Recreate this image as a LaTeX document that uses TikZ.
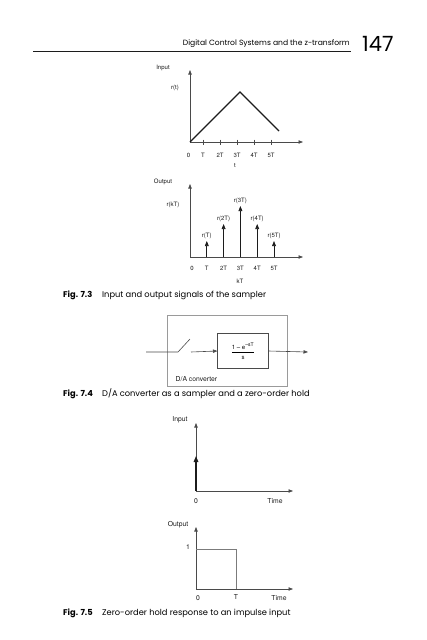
\documentclass[tikz,border=0pt]{standalone}
\usepackage{amsmath}
\usepackage{fontspec}
\setmainfont{TeX Gyre Heros}
\newfontfamily\capfont{Poppins}
\definecolor{inkBlack}{HTML}{1C1C1C}
\definecolor{inkGray}{HTML}{4A4A4A}
\definecolor{boxGray}{HTML}{9A9A9A}
\usetikzlibrary{arrows.meta, positioning, calc}

\begin{document}
\begin{tikzpicture}[x=1pt, y=-1pt,
  axis/.style={inkGray, line width=0.6pt, -{Triangle[length=4.5pt, width=3.4pt]}},
  tickmark/.style={inkGray, line width=0.6pt},
  sig/.style={inkBlack, line width=1.1pt},
  stem/.style={inkBlack, line width=0.7pt, -{Triangle[length=5pt, width=3.8pt]}},
  lbl/.style={font=\fontsize{6}{7}\selectfont, text=inkBlack, inner sep=0.5pt, text height=4.3pt, text depth=1.2pt},
  lblb/.style={font=\fontsize{6.8}{7.5}\selectfont, text=inkBlack, inner sep=0.5pt, text height=4.9pt, text depth=1.4pt},
  capnum/.style={font=\capfont\bfseries\fontsize{8.3}{10}\selectfont, anchor=base west, inner sep=0pt},
  captxt/.style={font=\capfont\fontsize{8.3}{10}\selectfont, anchor=base west, inner sep=0pt}]
  \useasboundingbox[fill=white] (0,0) rectangle (427,640);

  % running head
  \node[captxt, font=\capfont\fontsize{7.6}{9}\selectfont, anchor=base east] (head) at (350,45) {Digital Control Systems and the z-transform};
  \node[capnum, font=\capfont\fontsize{21}{24}\selectfont] (page) at (362,51.5) {147};
  \coordinate (ruleL) at (33,51);
  \coordinate (ruleR) at (351,51);
  \draw[inkBlack, line width=0.8pt] (ruleL) -- (ruleR);

  % Fig. 7.3, input
  \coordinate (o1) at (190,142);
  \coordinate (y1) at (190,70);
  \coordinate (x1) at (303,142);
  \draw[axis] (o1) -- (y1);
  \draw[axis] (o1) -- (x1);
  \foreach \k/\lab in {1/T,2/2T,3/3T,4/4T,5/5T} {
    \coordinate (tk\k) at ({186+17*\k},142);
    \draw[tickmark] ($(tk\k)+(0,-2.5)$) -- ($(tk\k)+(0,2.5)$);
    \node[lbl] (tl\k) at ({186+17*\k},155.5) {\lab};
  }
  \node[lbl] (tl0) at (188.5,155.5) {0};
  \coordinate (peak) at (240,92);
  \coordinate (rEnd) at (279,131);
  \draw[sig] (o1) -- (peak) -- (rEnd);
  \node[lbl] (in1) at (163,68) {Input};
  \node[lbl] (rt) at (175,88) {r(t)};
  \node[lbl] (tax) at (235,166) {t};

  % Fig. 7.3, output
  \coordinate (o2) at (190,257);
  \coordinate (y2) at (190,184);
  \coordinate (x2) at (303,257);
  \draw[axis] (o2) -- (y2);
  \draw[axis] (o2) -- (x2);
  \foreach \k/\h/\lab/\s in {1/241/r(T)/T,2/224/r(2T)/2T,3/206/r(3T)/3T,4/224/r(4T)/4T,5/241/r(5T)/5T} {
    \coordinate (sb\k) at ({190+16.8*\k},257);
    \coordinate (st\k) at ({190+16.8*\k},\h);
    \draw[stem] (sb\k) -- (st\k);
    \node[lbl, above=1.5pt of st\k] (sl\k) {\lab};
    \node[lbl] (kl\k) at ({190+16.8*\k},269) {\s};
  }
  \node[lbl] (kl0) at (192,269) {0};
  \node[lbl] (out1) at (163,182) {Output};
  \node[lbl] (rkt) at (173,205) {r(kT)};
  \node[lbl] (ktax) at (240,282) {kT};

  \node[capnum] (fig3) at (63,297.5) {Fig. 7.3};
  \node[captxt] (cap3) at (102,297.5) {Input and output signals of the sampler};

  % Fig. 7.4
  \node[draw=boxGray, line width=0.5pt, minimum width=120, minimum height=71, inner sep=0pt] (dac) at (227,350.5) {};
  \node[draw=inkGray, line width=0.6pt, minimum width=50.5, minimum height=35, inner sep=0pt] (zoh) at (243,351)
    {\fontsize{6}{7}\selectfont$\dfrac{\text{1 -- e}^{\text{--sT}}}{\text{s}}$};
  \node[lblb, anchor=south west] (daclbl) at (175,384) {D/A converter};
  \coordinate (in) at (146,352);
  \coordinate (swA) at (178,352);
  \coordinate (swB) at (190,339);
  \coordinate (swC) at (191,352);
  \coordinate (out) at (308,352);
  \draw[tickmark] (in) -- (swA) -- (swB);
  \draw[axis] (swC) -- (zoh.west);
  \draw[axis] (zoh.east) -- (out);

  \node[capnum] (fig4) at (63,396.5) {Fig. 7.4};
  \node[captxt] (cap4) at (102,396.5) {D/A converter as a sampler and a zero-order hold};

  % Fig. 7.5, input
  \coordinate (o3) at (196,491);
  \coordinate (y3) at (196,423);
  \coordinate (x3) at (293,491);
  \coordinate (imp) at (196,456);
  \draw[axis] (o3) -- (y3);
  \draw[axis] (o3) -- (x3);
  \draw[inkBlack, line width=1.4pt, -{Triangle[length=6pt, width=4.5pt]}] (o3) -- (imp);
  \node[lblb] (in2) at (180,420) {Input};
  \node[lblb] (z3) at (196,502) {0};
  \node[lblb] (tm3) at (275,502) {Time};

  % Fig. 7.5, output
  \coordinate (o4) at (196,589);
  \coordinate (y4) at (196,527);
  \coordinate (x4) at (293,589);
  \coordinate (pTop) at (196,549);
  \coordinate (pCorner) at (236,549);
  \coordinate (pEnd) at (236,589);
  \draw[axis] (o4) -- (y4);
  \draw[axis] (o4) -- (x4);
  \draw[boxGray!80!black, line width=0.6pt] (pTop) -- (pCorner) -- (pEnd);
  \node[lblb] (out2) at (178,525) {Output};
  \node[lblb] (one) at (188,548) {1};
  \node[lblb] (z4) at (198,599) {0};
  \node[lblb] (tT) at (236,598) {T};
  \node[lblb] (tm4) at (279,599) {Time};

  \node[capnum] (fig5) at (63,615.5) {Fig. 7.5};
  \node[captxt] (cap5) at (102,615.5) {Zero-order hold response to an impulse input};
\end{tikzpicture}
\end{document}
